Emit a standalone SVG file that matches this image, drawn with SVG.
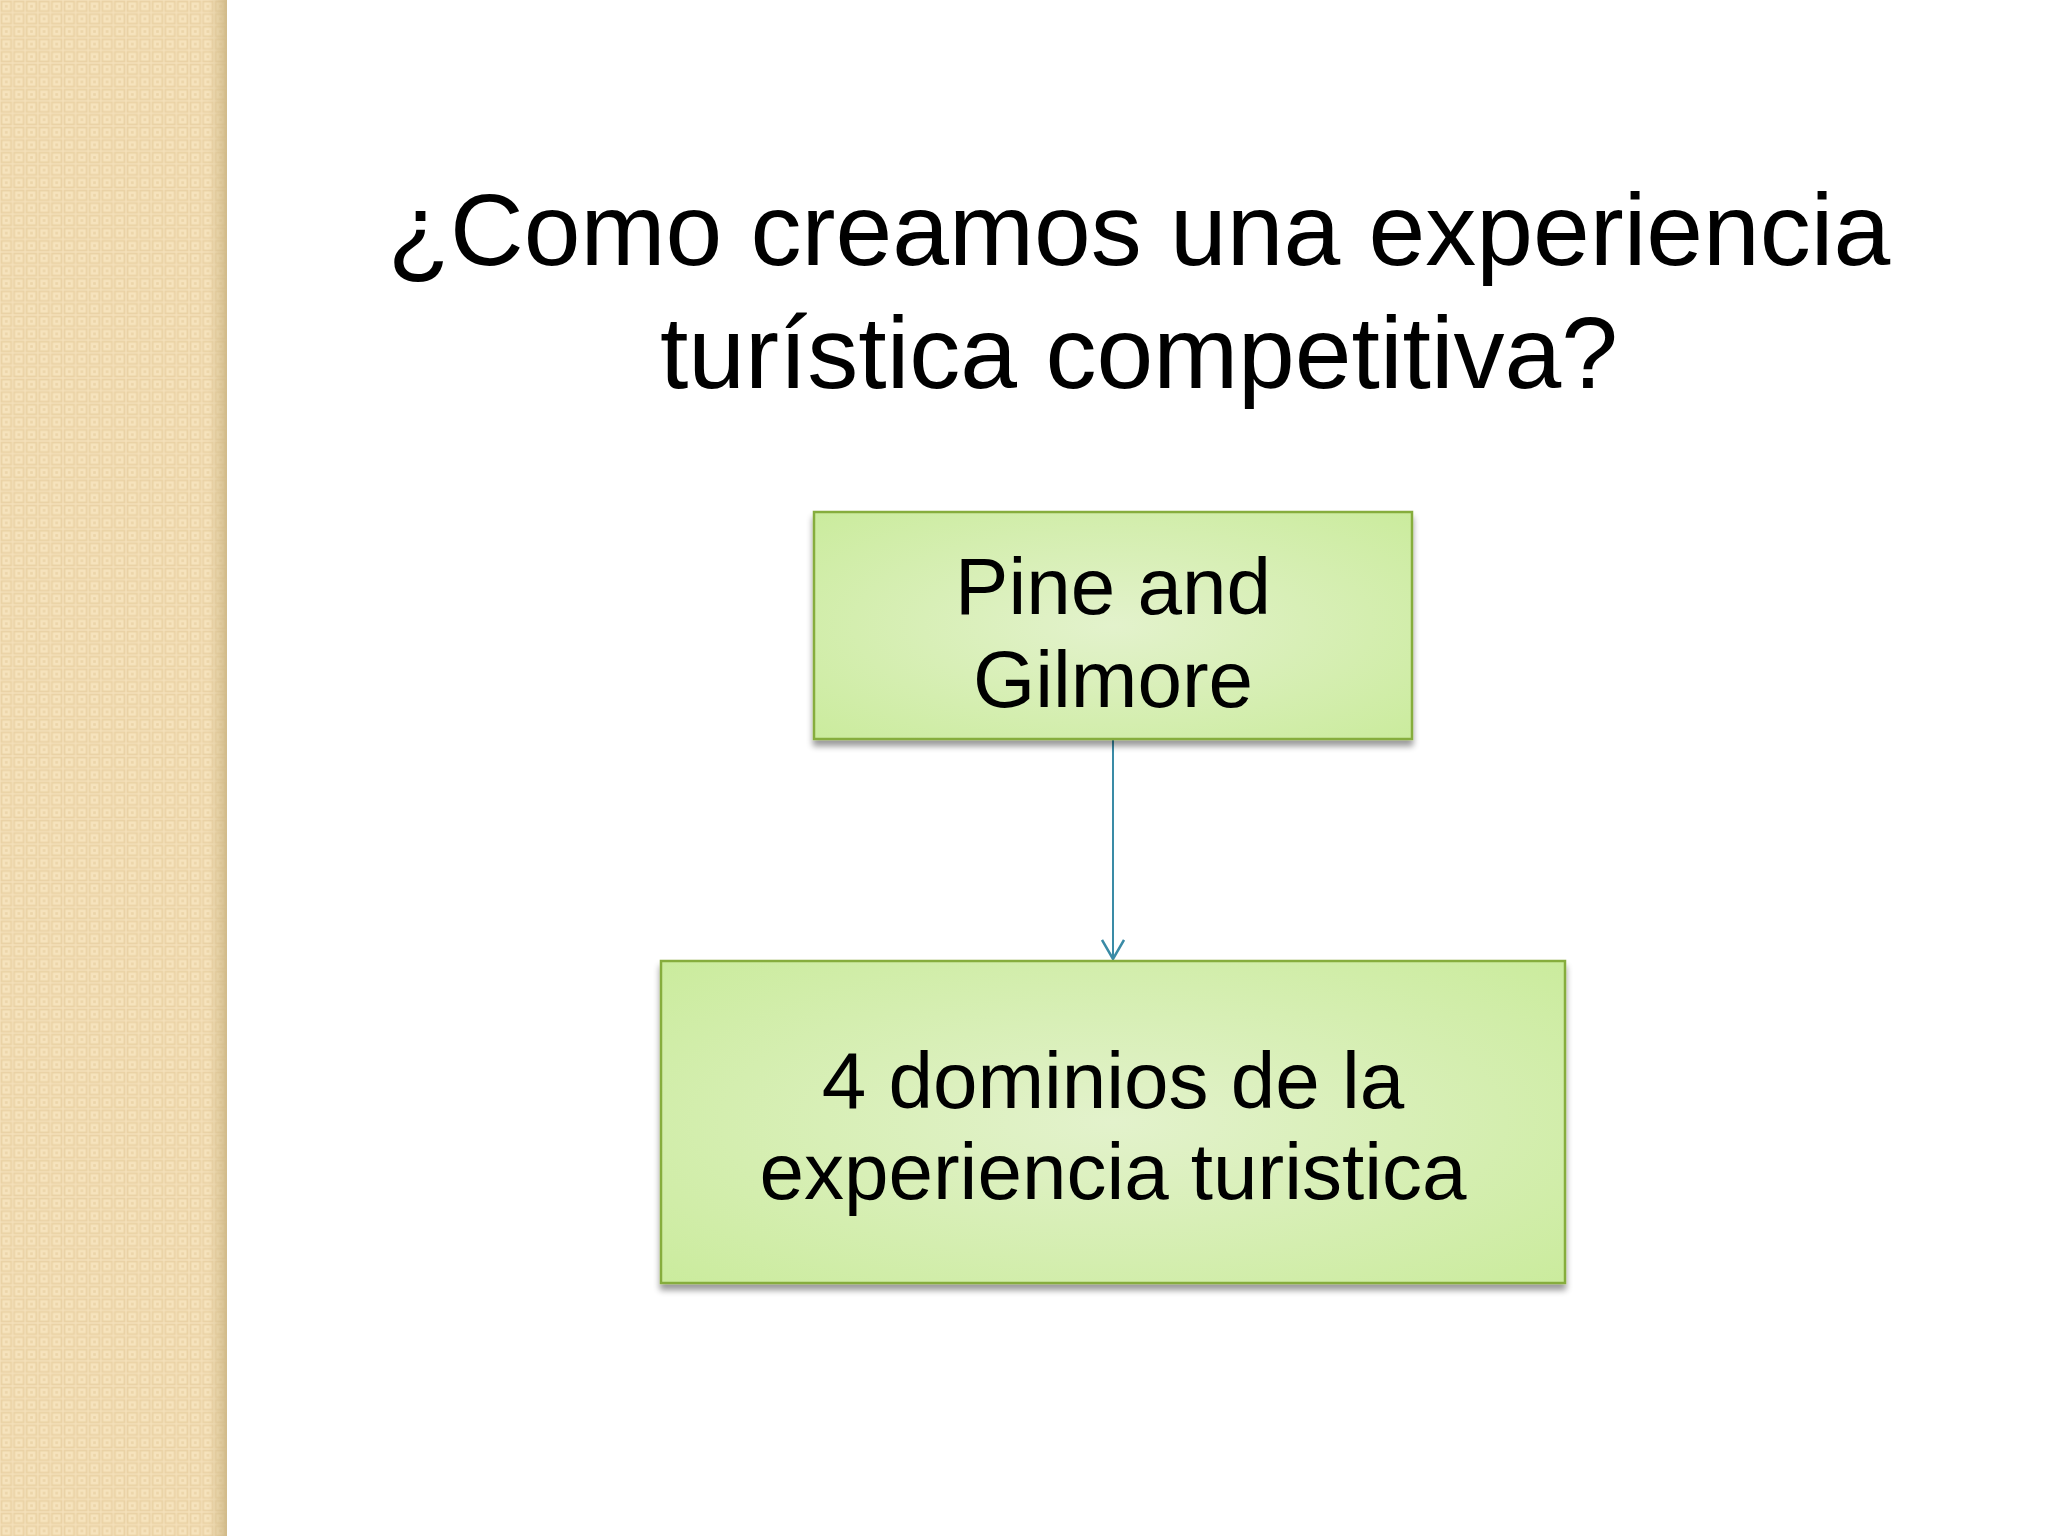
<svg xmlns="http://www.w3.org/2000/svg" width="2048" height="1536" viewBox="0 0 2048 1536">
<defs>
<style>
.t{font-family:"Liberation Sans",Arial,sans-serif;fill:#000;text-anchor:middle}
.box{stroke:#86ad3c;stroke-width:2.5}
</style>
<pattern id="weave" x="0" y="0" width="12.6" height="12.6" patternUnits="userSpaceOnUse">
<rect width="12.6" height="12.6" fill="#f6e3bd"/>
<rect x="1.5" y="1.5" width="9.6" height="9.6" fill="none" stroke="#ead2a5" stroke-width="1.8"/>
<rect x="5" y="5" width="2.6" height="2.6" fill="#ebd4a8"/>
</pattern>
<linearGradient id="edge" x1="0" y1="0" x2="1" y2="0">
<stop offset="0" stop-color="#d8c292" stop-opacity="0"/>
<stop offset="1" stop-color="#cdb684" stop-opacity="0.9"/>
</linearGradient>
<radialGradient id="fill" cx="0.5" cy="0.5" r="0.75">
<stop offset="0" stop-color="#e3f2cc"/>
<stop offset="1" stop-color="#c9eb9a"/>
</radialGradient>
<filter id="sh" x="-5%" y="-5%" width="110%" height="120%">
<feGaussianBlur in="SourceAlpha" stdDeviation="3"/>
<feOffset dx="0" dy="6"/>
<feComponentTransfer><feFuncA type="linear" slope="0.4"/></feComponentTransfer>
<feMerge><feMergeNode/><feMergeNode in="SourceGraphic"/></feMerge>
</filter>
<marker id="arr" markerWidth="24" markerHeight="24" refX="22" refY="12" orient="auto" markerUnits="userSpaceOnUse" viewBox="0 0 24 24">
<path d="M3,1 L22,12 L3,23" fill="none" stroke="#3a8ba6" stroke-width="2.5"/>
</marker>
</defs>
<rect width="2048" height="1536" fill="#ffffff"/>
<rect x="0" y="0" width="227" height="1536" fill="url(#weave)"/>
<rect x="208" y="0" width="19" height="1536" fill="url(#edge)"/>
<g id="title">
<text class="t" x="1139" y="265" font-size="102">¿Como creamos una experiencia</text>
<text class="t" x="1139" y="388" font-size="102">turística competitiva?</text>
</g>
<g id="connectors">
<line x1="1113" y1="739" x2="1113" y2="959" stroke="#3a8ba6" stroke-width="2" marker-end="url(#arr)"/>
</g>
<g id="node-pine">
<rect class="box" x="814" y="512" width="598" height="227" fill="url(#fill)" filter="url(#sh)"/>
<text class="t" x="1113" y="614" font-size="80">Pine and</text>
<text class="t" x="1113" y="707" font-size="80">Gilmore</text>
</g>
<g id="node-dominios">
<rect class="box" x="661" y="961" width="904" height="322" fill="url(#fill)" filter="url(#sh)"/>
<text class="t" x="1113" y="1108" font-size="80">4 dominios de la</text>
<text class="t" x="1113" y="1199" font-size="80">experiencia turistica</text>
</g>
</svg>
